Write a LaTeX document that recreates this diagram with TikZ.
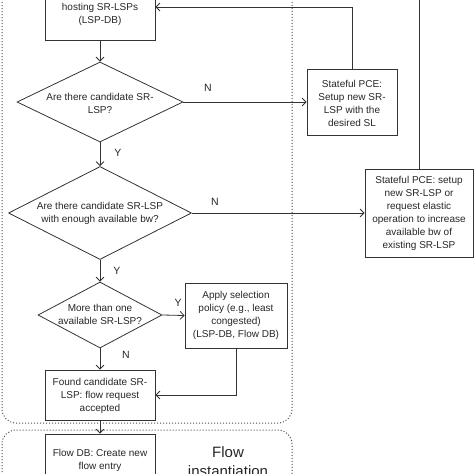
\documentclass[tikz,border=0pt]{standalone}
\usepackage{fontspec}
\setmainfont{Liberation Sans}
\usetikzlibrary{arrows.meta,shapes.geometric}
\begin{document}
\begin{tikzpicture}[x=1pt,y=-1pt,
  line width=0.8pt,
  every node/.style={text=black!85},
  box/.style={draw=black!80,rectangle,inner sep=0pt},
  dia/.style={draw=black!80,diamond,inner sep=0pt},
  txt/.style={align=center,font=\fontsize{10}{13}\selectfont,inner sep=0pt},
  lbl/.style={font=\fontsize{10.5}{12}\selectfont,inner sep=0pt},
  arr/.style={draw=black!80,-{Straight Barb[length=4pt,width=8pt]}},
  ln/.style={draw=black!80},
  cont/.style={draw=black!70,dotted,line width=1pt,rounded corners=14pt}]
\useasboundingbox (0,0) rectangle (474,474);
\clip (0,0) rectangle (474,474);
% containers
\draw[cont] (2,-30) rectangle (292,423);
\draw[cont] (2,430) rectangle (292,530);
% nodes
\node[box,minimum width=110pt,minimum height=66pt] (top) at (100,7) {};
\node[txt] (toptxt) at (100,14.5) {hosting SR-LSPs\\(LSP-DB)};
\node[dia,minimum width=166pt,minimum height=80pt] (d1) at (100,102) {};
\node[txt] (d1t) at (100,103.5) {Are there candidate SR-\\LSP?};
\node[box,minimum width=90pt,minimum height=66pt] (pce1) at (352,102) {};
\node[txt] (pce1t) at (352,103) {Stateful PCE:\\Setup new SR-\\LSP with the\\desired SL};
\node[dia,minimum width=183pt,minimum height=93pt] (d2) at (100,213) {};
\node[txt] (d2t) at (100,213.5) {Are there candidate SR-LSP\\with enough available bw?};
\node[box,minimum width=108pt,minimum height=88pt] (pce2) at (419,213) {};
\node[txt] (pce2t) at (419,213.5) {Stateful PCE: setup\\new SR-LSP or\\request elastic\\operation to increase\\available bw of\\existing SR-LSP};
\node[dia,minimum width=124pt,minimum height=66pt] (d3) at (100,315) {};
\node[txt] (d3t) at (100,314.5) {More than one\\available SR-LSP?};
\node[box,minimum width=102pt,minimum height=65pt] (sel) at (236,315.5) {};
\node[txt] (selt) at (236,315.5) {Apply selection\\policy (e.g., least\\congested)\\(LSP-DB, Flow DB)};
\node[box,minimum width=110pt,minimum height=50pt] (found) at (100,395) {};
\node[txt] (foundt) at (100,395.5) {Found candidate SR-\\LSP: flow request\\accepted};
\node[box,minimum width=110pt,minimum height=60pt] (flowdb) at (100,464) {};
\node[txt] (flowdbt) at (100,460) {Flow DB: Create new\\flow entry};
\node[align=center,font=\fontsize{15}{19}\selectfont,inner sep=0pt] (flowlbl) at (228,462) {Flow\\instantiation};
% connectors
\coordinate (up) at (419,-20);
\draw[arr] (top.south) -- (d1.north);
\draw[arr] (d1.east) -- (pce1.west);
\draw[arr] (pce1.north) |- (top.east);
\draw[arr] (d1.south) -- (d2.north);
\draw[arr] (d2.east) -- (pce2.west);
\draw[ln] (pce2.north) -- (up);
\draw[arr] (d2.south) -- (d3.north);
\draw[arr] (d3.east) -- (sel.west);
\draw[arr] (d3.south) -- (found.north);
\draw[arr] (sel.south) |- (found.east);
\draw[arr] (found.south) -- (flowdb.north);
% labels
\node[lbl] (n1) at (208,88) {N};
\node[lbl] (y1) at (118,153) {Y};
\node[lbl] (n2) at (215,202) {N};
\node[lbl] (y2) at (117,271) {Y};
\node[lbl] (y3) at (178,303) {Y};
\node[lbl] (n3) at (126,355) {N};
\end{tikzpicture}
\end{document}
